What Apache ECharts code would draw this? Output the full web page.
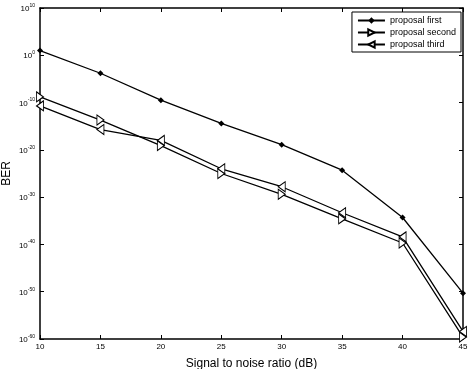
<!DOCTYPE html>
<html><head><meta charset="utf-8">
<script src="https://cdn.jsdelivr.net/npm/echarts@6/dist/echarts.min.js"></script>
<style>html,body{margin:0;padding:0;background:#fff}#c{width:474px;height:369px}</style>
</head><body><div id="c"></div>
<script>
const snr = [10, 15, 20, 25, 30, 35, 40, 45];
// BER read as exponents of 10 (log10 BER)
const firstExp  = [1.0, -3.8, -9.5, -14.4, -18.9, -24.3, -34.3, -50.3];
const secondExp = [-8.8, -13.7, -19.1, -25.0, -29.4, -34.6, -39.7, -59.6];
const thirdExp  = [-10.7, -15.7, -18.0, -24.0, -27.8, -33.3, -38.4, -58.4];
const seriesNames = ['proposal first', 'proposal second', 'proposal third'];
const yTickExps = [-60, -50, -40, -30, -20, -10, 0, 10];

const toPairs = (exps) => snr.map((x, i) => [x, exps[i]]);
const FONT = '"Liberation Sans", Arial, Helvetica, sans-serif';
const chart = echarts.init(document.getElementById('c'), null, {renderer: 'canvas'});
const rightTri = 'path://M0,0 L10,5 L0,10 Z';
const leftTri = 'path://M10,0 L0,5 L10,10 Z';
const grid = {left: 40, right: 11, top: 8, bottom: 30, containLabel: false, outerBoundsMode: 'none'};
const axisLine = {show: true, onZero: false, lineStyle: {color: '#000', width: 1.5}};
const ticks = {show: true, inside: true, length: 4, lineStyle: {color: '#000', width: 1}};
const yMin = yTickExps[0], yMax = yTickExps[yTickExps.length - 1];
function yLabel(v) {
  return '{b|10}{s|' + Math.round(v) + '}';
}
const option = {
  animation: false,
  backgroundColor: '#fff',
  textStyle: {fontFamily: FONT},
  grid: grid,
  legend: {
    orient: 'vertical', right: 13, top: 12,
    data: seriesNames,
    backgroundColor: '#fff', borderColor: '#000', borderWidth: 1,
    padding: [4, 5, 3, 5], itemGap: 3, itemWidth: 27, itemHeight: 8,
    textStyle: {fontSize: 9, color: '#000', fontFamily: FONT},
    inactiveColor: '#000'
  },
  xAxis: [{
    type: 'value', min: 10, max: 45, interval: 5,
    axisLine: axisLine, axisTick: ticks, splitLine: {show: false},
    axisLabel: {fontSize: 8, color: '#000', margin: 4},
    name: 'Signal to noise ratio (dB)', nameLocation: 'middle', nameGap: 19,
    nameMoveOverlap: false,
    nameTextStyle: {fontSize: 12, color: '#000'}
  }, {
    type: 'value', position: 'top', min: 10, max: 45, interval: 5,
    axisLine: axisLine, axisTick: ticks, axisLabel: {show: false}, splitLine: {show: false}
  }],
  yAxis: [{
    type: 'value', min: yMin, max: yMax, interval: 10,
    axisLine: axisLine, axisTick: ticks, splitLine: {show: false},
    axisLabel: {
      color: '#000', margin: 5, formatter: yLabel,
      rich: {
        b: {fontSize: 8, color: '#000', lineHeight: 10, verticalAlign: 'bottom'},
        s: {fontSize: 5, color: '#000', lineHeight: 10, verticalAlign: 'top'}
      }
    },
    name: 'BER', nameLocation: 'middle', nameGap: 27, nameMoveOverlap: false,
    nameTextStyle: {fontSize: 12, color: '#000'}
  }, {
    type: 'value', min: yMin, max: yMax, interval: 10, position: 'right',
    axisLine: axisLine, axisTick: ticks, axisLabel: {show: false}, splitLine: {show: false}
  }],
  series: [{
    name: seriesNames[0], type: 'line', data: toPairs(firstExp),
    symbol: 'diamond', symbolSize: 6, showAllSymbol: true,
    lineStyle: {color: '#000', width: 1.3}, itemStyle: {color: '#000'}
  }, {
    name: seriesNames[1], type: 'line', data: toPairs(secondExp),
    symbol: rightTri, symbolSize: [7, 10], showAllSymbol: true,
    lineStyle: {color: '#000', width: 1.3},
    itemStyle: {color: '#fff', borderColor: '#000', borderWidth: 1}
  }, {
    name: seriesNames[2], type: 'line', data: toPairs(thirdExp),
    symbol: leftTri, symbolSize: [7, 10], showAllSymbol: true,
    lineStyle: {color: '#000', width: 1.3},
    itemStyle: {color: '#fff', borderColor: '#000', borderWidth: 1}
  }]
};
chart.setOption(option);
</script></body></html>
